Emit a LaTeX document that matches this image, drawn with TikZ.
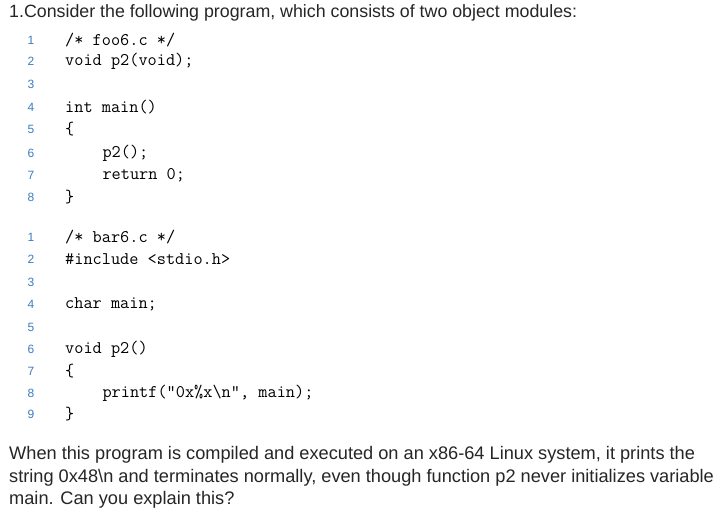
\documentclass[tikz,border=0pt]{standalone}
\usepackage{fontspec}
\setmainfont{Liberation Sans}
\tikzset{
  txt/.style={anchor=west,inner sep=0pt,font=\fontsize{18.2}{21}\selectfont,text=black!85},
  ttl/.style={anchor=west,inner sep=0pt,font=\fontsize{17.8}{21}\selectfont,text=black!85},
  num/.style={anchor=center,inner sep=0pt,font=\fontsize{12}{14}\selectfont,text={rgb,255:red,60;green,125;blue,195}},
  code/.style={anchor=west,inner sep=0pt,font=\fontsize{17.8}{20}\ttfamily\selectfont}
}
\begin{document}
\begin{tikzpicture}[x=1pt,y=-1pt]
\useasboundingbox[fill=white] (0,0) rectangle (724,513);
\node[ttl] (title) at (9,13) {1.Consider the following program, which consists of two object modules:};
\foreach \n/\y/\c [count=\i] in {1/40/{/* foo6.c */},2/61/{void p2(void);},3/84/{},4/107/{int main()},5/129/{\{},6/153/{\hspace{2.1em}p2();},7/175/{\hspace{2.1em}return 0;},8/197/{\}}}{
  \node[num] (a\i) at (31,\y) {\n};
  \node[code] (ca\i) at (65,\y) {\c};
}
\foreach \n/\y/\c [count=\i] in {1/237/{/* bar6.c */},2/259/{\#include <stdio.h>},3/282/{},4/304/{char main;},5/327/{},6/349/{void p2()},7/371/{\{},8/393/{\hspace{2.1em}printf("0x\%x\textbackslash n", main);},9/414/{\}}}{
  \node[num] (b\i) at (31,\y) {\n};
  \node[code] (cb\i) at (65,\y) {\c};
}
\node[txt] (p1) at (9,455) {When this program is compiled and executed on an x86-64 Linux system, it prints the};
\node[txt] (p2) at (9,478) {string 0x48\textbackslash n and terminates normally, even though function p2 never initializes variable};
\node[txt] (p3) at (9,500) {main. Can you explain this?};
\end{tikzpicture}
\end{document}
